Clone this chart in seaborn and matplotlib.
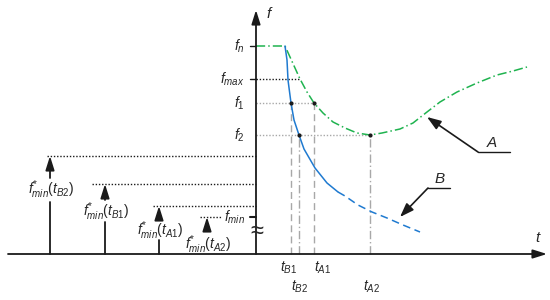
import numpy as np
import matplotlib.pyplot as plt
import seaborn as sns
import pandas as pd

# curve A (green, dash-dot): t, f in schematic units
a_t = [0, 29, 34, 39, 44, 51, 58, 67, 77, 89, 101, 114, 126, 144, 157, 171, 184, 201, 221, 241, 257, 271]
a_f = [208, 208, 197, 186, 175, 162, 151, 141, 132, 126, 121, 119, 121, 125, 131, 142, 152, 162, 171, 179, 183, 187]
# curve B (blue): solid part then dashed part
b_t = [29, 31, 32, 35, 38, 43, 48, 59, 71, 82]
b_f = [208, 194, 174, 151, 134, 119, 105, 86, 71, 62]
b2_t = [82, 89, 102, 116, 131, 147, 164]
b2_f = [62, 58, 49, 42, 36, 29, 22]

# levels on the f axis
f_levels = {'n': 208, 'max': 175, '1': 151, '2': 119, 'min': 37}
f_labels = [r'$f_n$', r'$f_{max}$', r'$f_1$', r'$f_2$', r'$f_{min}$']
# times
t_B1, t_B2, t_A1, t_A2 = 35, 43, 58, 114

# minimal frequency arrows on the left
fstar_x = [-206, -151, -97, -49]
fstar_f = [98, 70, 48, 37]
fstar_base = [76, 54, 36, 25]
fstar_stem = [52, 32, 14, None]
fstar_line_start = [-209, -164, -103, -56]
fstar_line_end = [0, 0, 0, -34]
fstar_text_y = [64, 42, 23, 9]
fstar_labels = [r'$f^{*}_{min}(t_{B2})$', r'$f^{*}_{min}(t_{B1})$',
                r'$f^{*}_{min}(t_{A1})$', r'$f^{*}_{min}(t_{A2})$']

sns.set_theme(style='white')
plt.rcParams['font.family'] = ['Liberation Sans', 'DejaVu Sans']
plt.rcParams['mathtext.fontset'] = 'custom'
plt.rcParams['mathtext.it'] = 'Liberation Sans:italic'
plt.rcParams['mathtext.rm'] = 'Liberation Sans'

fig = plt.figure(figsize=(5.5, 3), dpi=100)
ax = fig.add_axes([0, 0, 1, 1])
ax.set_xlim(-256, 294)
ax.set_ylim(-46, 254)
ax.axis('off')

green = '#1fb34f'
blue = '#1f7ad0'
grey = '#a8a8a8'

# axes with arrows
ax.annotate('', xy=(0, 244), xytext=(0, 0),
            arrowprops=dict(arrowstyle='-|>,head_length=0.7,head_width=0.22',
                            color='k', lw=1.3, shrinkA=0, shrinkB=0))
ax.annotate('', xy=(291, 0), xytext=(-248, 0),
            arrowprops=dict(arrowstyle='-|>,head_length=0.7,head_width=0.22',
                            color='k', lw=1.3, shrinkA=0, shrinkB=0))
ax.text(14, 240, r'$f$', fontsize=11, ha='center', va='center')
ax.text(282, 16, r'$t$', fontsize=11, ha='center', va='center')
ax.text(1, 22, '≈', fontsize=17, ha='center', va='center')

# ticks on f axis
for key in ['n', 'max', 'min']:
    ax.plot([-6, 0], [f_levels[key]] * 2, color='k', lw=1.5 if key == 'min' else 1)
for (key, val), lab in zip(f_levels.items(), f_labels):
    ax.text(-11, val, lab, fontsize=10, ha='right', va='center')

# helper dotted / dashed lines
ax.plot([0, 44], [f_levels['max']] * 2, color='k', lw=1, dashes=(1, 1.3))
ax.plot([0, t_A1], [f_levels['1']] * 2, color=grey, lw=1, dashes=(1, 1.3))
ax.plot([0, t_A2], [f_levels['2']] * 2, color=grey, lw=1, dashes=(1, 1.3))
ax.plot([t_B1, t_B1], [0, f_levels['1']], color=grey, lw=1, dashes=(5, 3))
ax.plot([t_A1, t_A1], [0, f_levels['1']], color=grey, lw=1, dashes=(5, 3))
ax.plot([t_B2, t_B2], [0, f_levels['2']], color=grey, lw=1, dashes=(6, 2, 1, 2))
ax.plot([t_A2, t_A2], [0, f_levels['2']], color=grey, lw=1, dashes=(6, 2, 1, 2))

# curves
curve_a = pd.DataFrame({'t': a_t, 'f': a_f})
curve_b = pd.DataFrame({'t': b_t, 'f': b_f})
curve_b2 = pd.DataFrame({'t': b2_t, 'f': b2_f})
sns.lineplot(data=curve_a, x='t', y='f', ax=ax, color=green, lw=1.1, sort=False)
ax.lines[-1].set_dashes((6, 2, 1, 2))
sns.lineplot(data=curve_b, x='t', y='f', ax=ax, color=blue, lw=1.1, sort=False)
sns.lineplot(data=curve_b2, x='t', y='f', ax=ax, color=blue, lw=1.1, sort=False)
ax.lines[-1].set_dashes((5, 3))

# intersection dots
ax.scatter([t_B1, t_A1, t_B2, t_A2],
           [f_levels['1'], f_levels['1'], f_levels['2'], f_levels['2']],
           s=4, color='k', zorder=5)

# time labels
ax.text(t_B1 - 2, -14, r'$t_{B1}$', fontsize=10, ha='center', va='center')
ax.text(t_A1 + 9, -14, r'$t_{A1}$', fontsize=10, ha='center', va='center')
ax.text(t_B2 + 1, -33, r'$t_{B2}$', fontsize=10, ha='center', va='center')
ax.text(t_A2 + 2, -33, r'$t_{A2}$', fontsize=10, ha='center', va='center')

# f* arrows on the left
for x, tip, base, stem, x0, x1, ty, lab in zip(fstar_x, fstar_f, fstar_base, fstar_stem,
                                               fstar_line_start, fstar_line_end,
                                               fstar_text_y, fstar_labels):
    ax.plot([x0, x1], [tip, tip], color='k', lw=1, dashes=(1, 1.3))
    ax.annotate('', xy=(x, tip), xytext=(x, base),
                arrowprops=dict(arrowstyle='-|>,head_length=0.7,head_width=0.22',
                                color='k', lw=1.3, shrinkA=0, shrinkB=0))
    if stem is not None:
        ax.plot([x, x], [0, stem], color='k', lw=1.3)
    ax.text(x + 1, ty, lab, fontsize=10, ha='center', va='center')

# A and B callouts
ax.plot([222, 254], [102, 102], color='k', lw=1)
ax.annotate('', xy=(171, 137), xytext=(222, 102),
            arrowprops=dict(arrowstyle='-|>,head_length=0.7,head_width=0.25',
                            color='k', lw=1.2, shrinkA=0, shrinkB=0))
ax.text(236, 111, r'$A$', fontsize=11, ha='center', va='center')
ax.plot([172, 194], [66, 66], color='k', lw=1)
ax.annotate('', xy=(144, 37), xytext=(172, 66),
            arrowprops=dict(arrowstyle='-|>,head_length=0.7,head_width=0.25',
                            color='k', lw=1.2, shrinkA=0, shrinkB=0))
ax.text(184, 75, r'$B$', fontsize=11, ha='center', va='center')

fig.savefig('out.png', dpi=100)
